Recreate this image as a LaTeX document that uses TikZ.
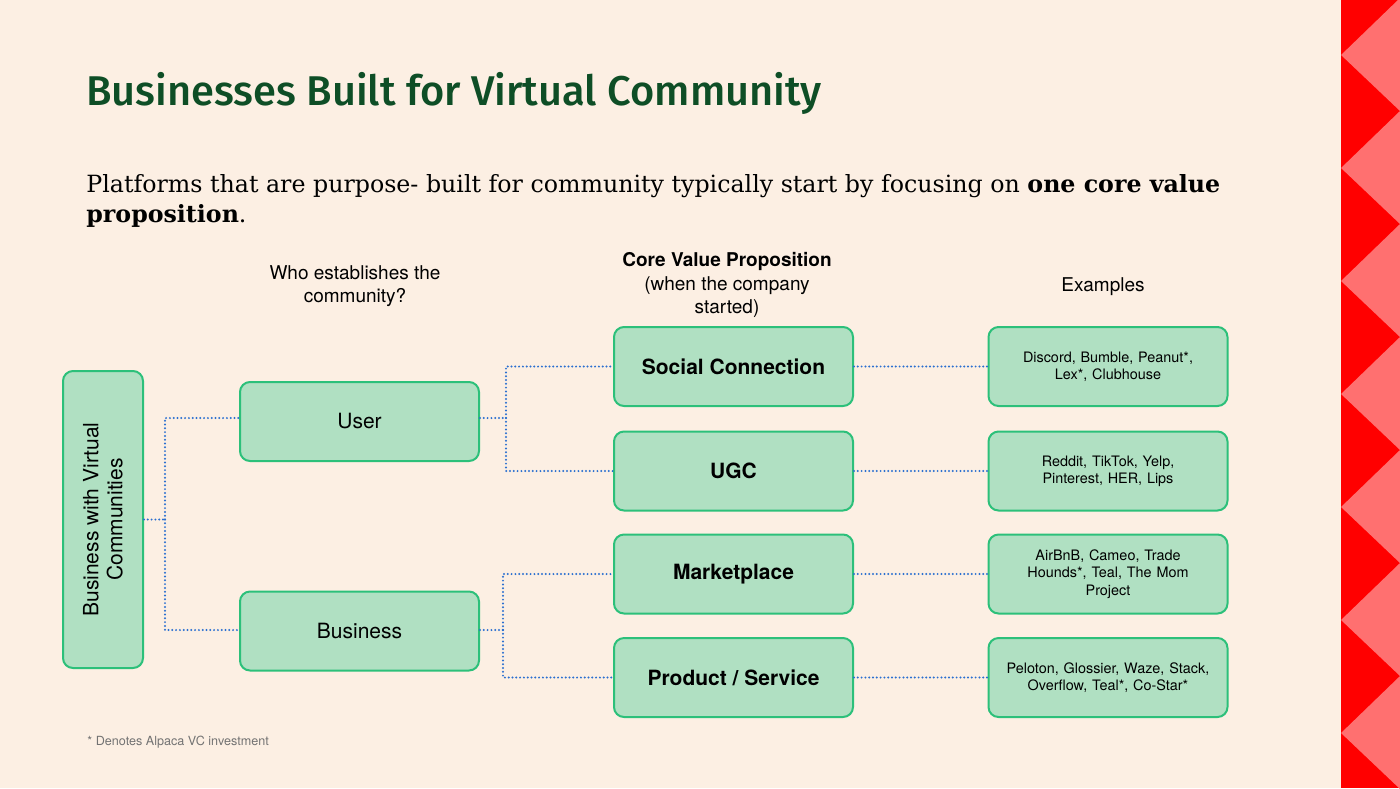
\documentclass[tikz,border=0pt]{standalone}
\usepackage{fontspec}
\setmainfont{TeX Gyre Heros}
\newfontfamily\slabfont{DejaVu Serif}
\newfontfamily\titlefont{Fira Sans}[UprightFont=* Medium]
\usetikzlibrary{positioning}
\definecolor{bgcream}{HTML}{FCEFE3}
\definecolor{boxfill}{HTML}{B0E0C2}
\definecolor{boxline}{HTML}{2CC07A}
\definecolor{titlegreen}{HTML}{0E4E26}
\definecolor{dotblue}{HTML}{2A6FD0}
\definecolor{zzdark}{HTML}{FF0000}
\definecolor{zzlight}{HTML}{FF7070}
\tikzset{
  box/.style={draw=boxline,fill=boxfill,line width=1pt,rounded corners=5pt,
    minimum width=119.5pt,minimum height=39.5pt,align=center,font=\fontsize{10.5}{12}\selectfont},
  keybox/.style={box,font=\bfseries\fontsize{10.5}{12}\selectfont},
  exbox/.style={box,font=\fontsize{7.2}{8.6}\selectfont,text width=112pt},
  link/.style={dotblue,line width=1.1pt,line cap=round,dash pattern=on 0pt off 1.9pt},
  head/.style={align=center,font=\fontsize{9.5}{11.8}\selectfont}
}
\begin{document}
\begin{tikzpicture}[x=0.5pt,y=-0.5pt]
\fill[bgcream] (0,0) rectangle (1400,788);
\useasboundingbox (0,0) rectangle (1400,788);
% zigzag strip
\fill[zzdark] (1341,0) rectangle (1400,788);
\foreach \k in {0,...,7}
  \fill[zzlight] (1341,55+113*\k) -- (1400,-2+113*\k) -- (1400,111+113*\k) -- cycle;
% texts
\node[anchor=base west,text=titlegreen,font=\titlefont\fontsize{20.8}{26}\selectfont,inner sep=0] (title) at (86,105) {Businesses Built for Virtual Community};
\node[anchor=base west,inner sep=0,align=left,font=\slabfont\fontsize{11.85}{15}\selectfont] (intro) at (86,192)
  {Platforms that are purpose- built for community typically start by focusing on \textbf{one core value}};
\node[anchor=base west,inner sep=0,font=\slabfont\fontsize{11.85}{15}\selectfont] (intro2) at (86,222) {\textbf{proposition}.};
\node[head] (h1) at (355,286) {Who establishes the\\community?};
\node[head] (h2) at (727,285) {\textbf{Core Value Proposition}\\(when the company\\started)};
\node[head] (h3) at (1103,287) {Examples};
\node[anchor=base west,inner sep=0,text=black!55,font=\fontsize{6.3}{7}\selectfont] (note) at (87,745) {* Denotes Alpaca VC investment};
% boxes
\node[box,minimum width=148.5pt,minimum height=40pt,rotate=90] (root) at (103,519.5) {Business with Virtual\\Communities};
\node[box] (user) at (359.5,421.5) {User};
\node[box] (biz) at (359.5,631) {Business};
\node[keybox] (social) at (733.5,366.5) {Social Connection};
\node[keybox] (ugc) at (733.5,471) {UGC};
\node[keybox] (market) at (733.5,574) {Marketplace};
\node[keybox] (product) at (733.5,677.5) {Product / Service};
\node[exbox] (ex1) at (1108,366.5) {Discord, Bumble, Peanut*,\\Lex*, Clubhouse};
\node[exbox] (ex2) at (1108,471) {Reddit, TikTok, Yelp,\\Pinterest, HER, Lips};
\node[exbox] (ex3) at (1108,574) {AirBnB, Cameo, Trade\\Hounds*, Teal, The Mom\\Project};
\node[exbox] (ex4) at (1108,677.5) {Peloton, Glossier, Waze, Stack,\\Overflow, Teal*, Co-Star*};
% connectors
\coordinate (j0) at (165,519.5);
\coordinate (j1) at (506,418);
\coordinate (j2) at (503,630);
\draw[link] (root.south) -- (j0);
\draw[link] (j0) |- (user.west |- 0,418);
\draw[link] (j0) |- (biz.west |- 0,630);
\draw[link] (user.east |- j1) -- (j1);
\draw[link] (j1) |- (social.west);
\draw[link] (j1) |- (ugc.west);
\draw[link] (biz.east |- j2) -- (j2);
\draw[link] (j2) |- (market.west);
\draw[link] (j2) |- (product.west);
\foreach \a/\b in {social/ex1,ugc/ex2,market/ex3,product/ex4}
  \draw[link] (\a) -- (\b);
\end{tikzpicture}
\end{document}
